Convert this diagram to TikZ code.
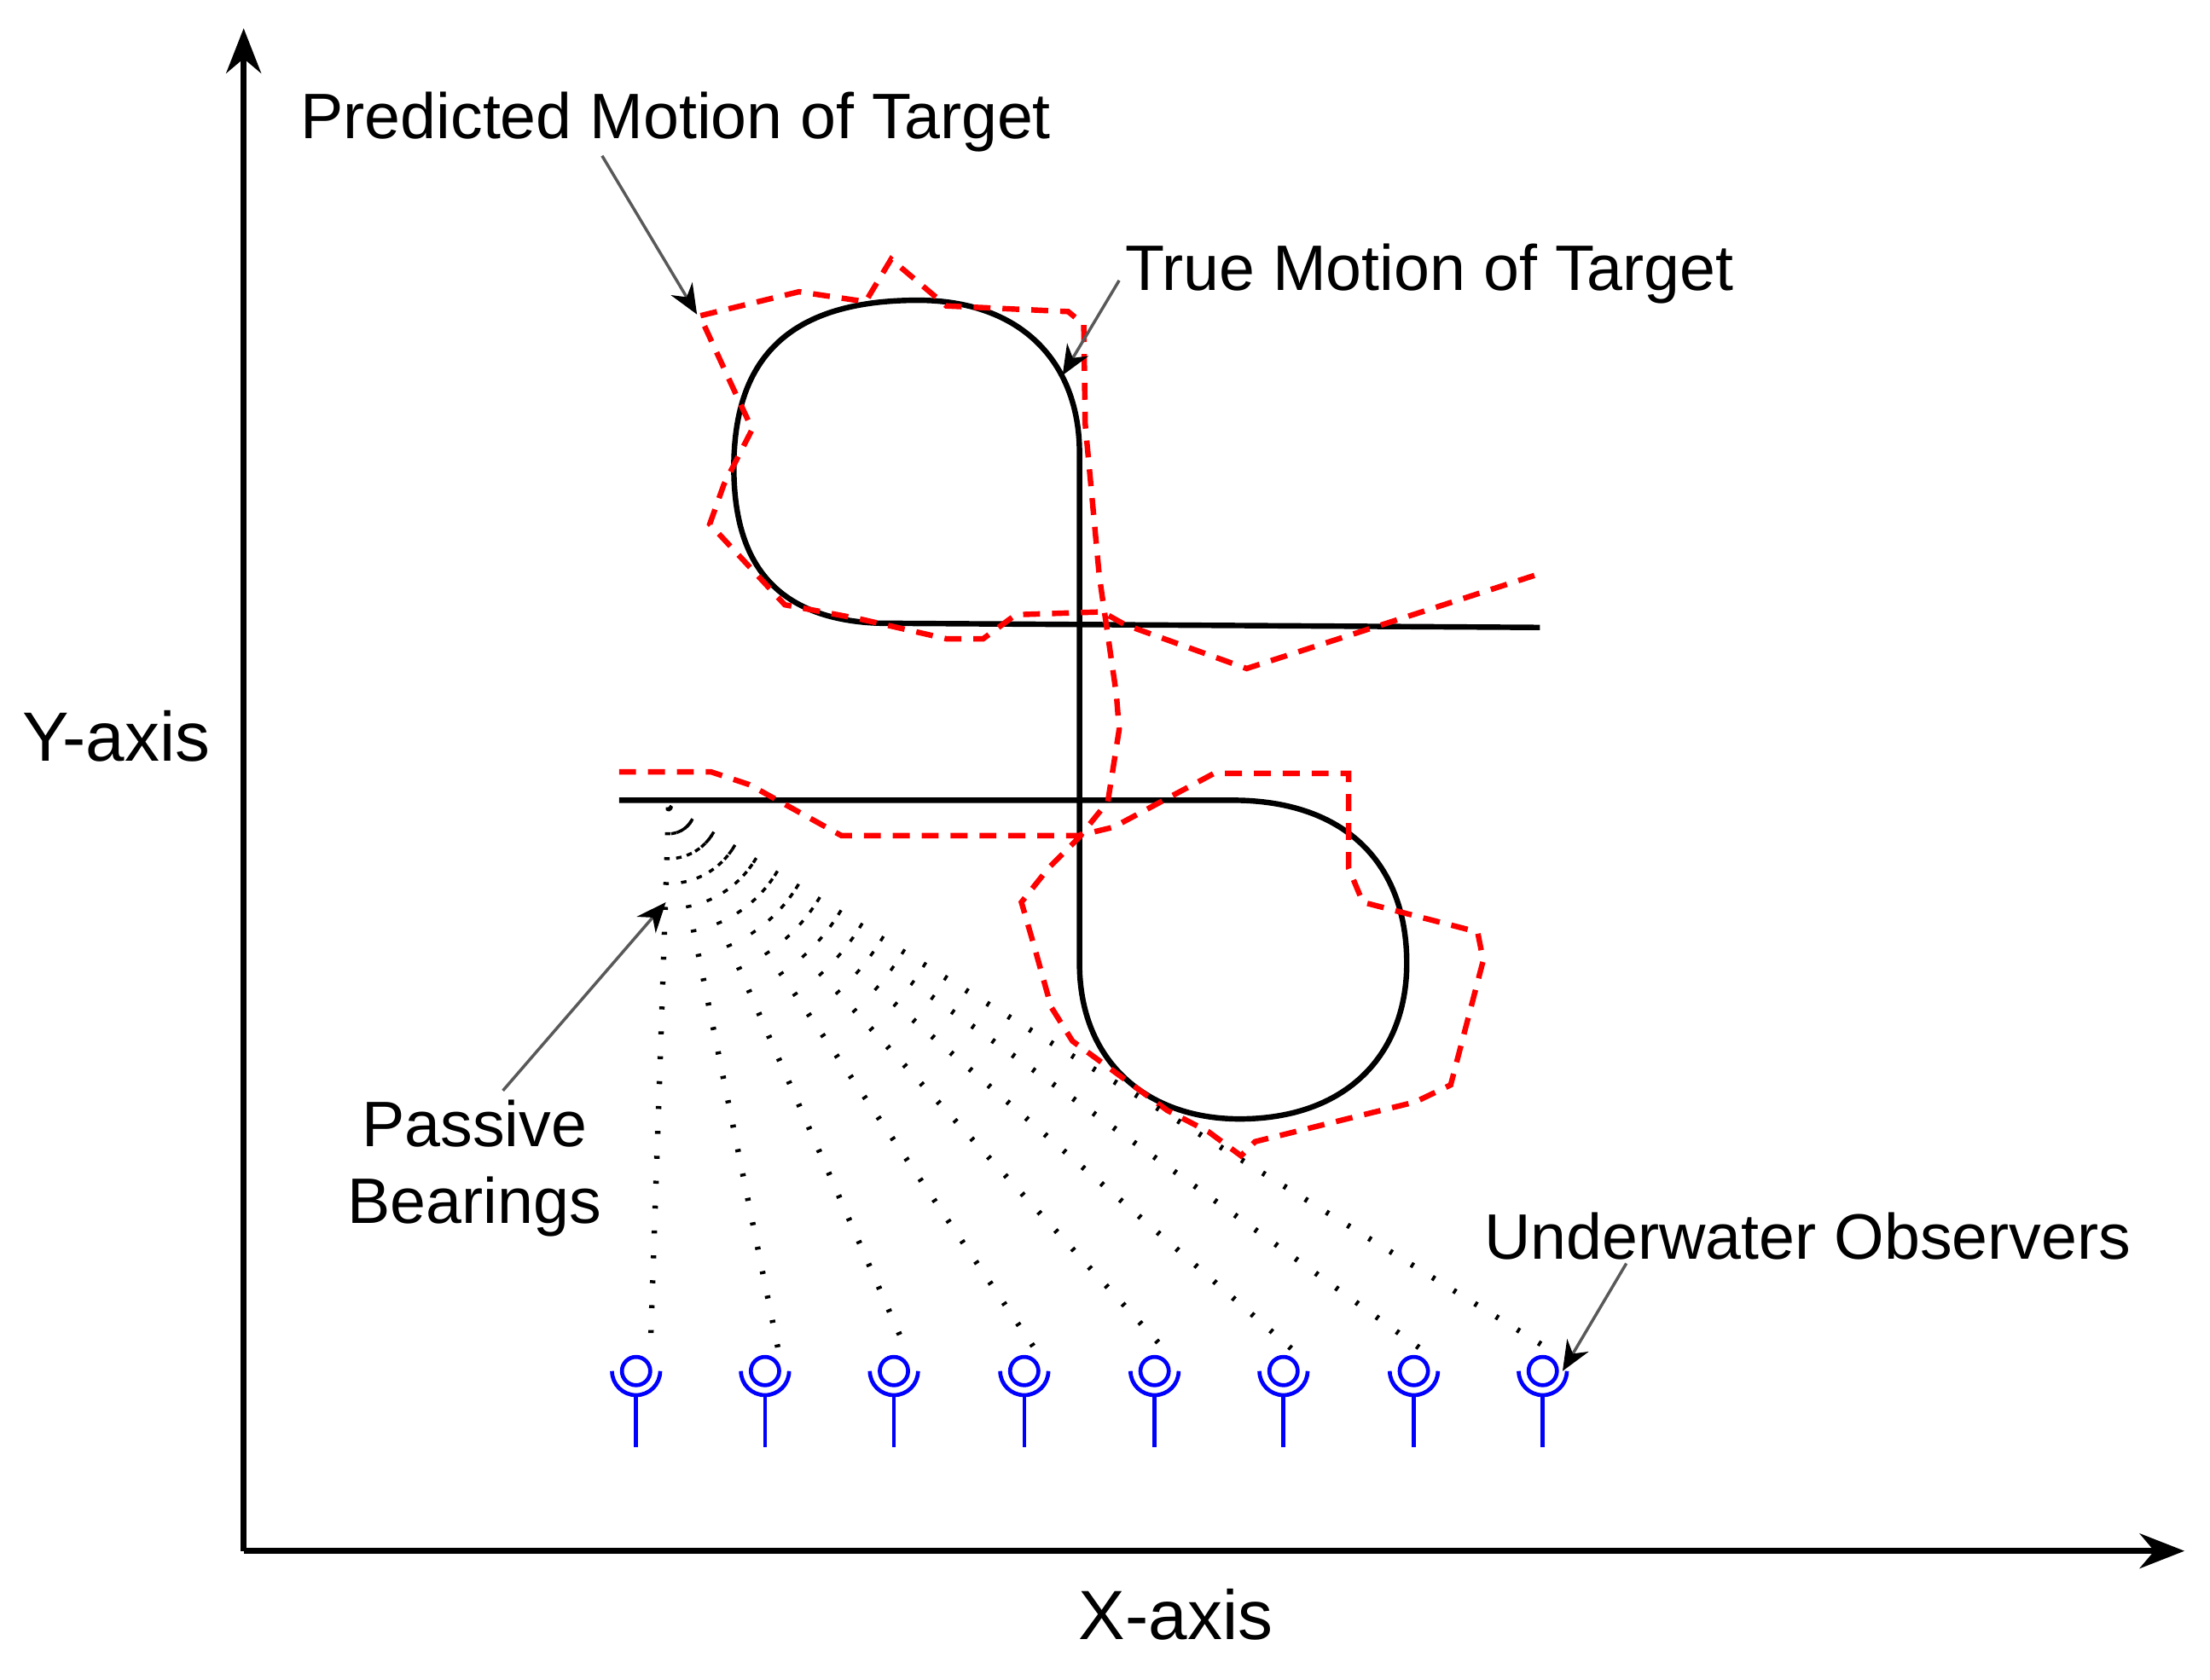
\documentclass[tikz,border=0pt]{standalone}
\usepackage{fontspec}
\setmainfont{Liberation Sans}
\usetikzlibrary{calc,arrows.meta}
\begin{document}
\begin{tikzpicture}[x=0.01cm,y=-0.01cm,
  axis/.style={line width=1.1pt,-{Stealth[length=9pt,width=7pt]}},
  truepath/.style={line width=1.1pt,black},
  predpath/.style={line width=1.1pt,red,dash pattern=on 3.4pt off 2.4pt},
  bearing/.style={line width=1.1pt,black,dash pattern=on 0.6pt off 4.4pt},
  obs/.style={blue,line width=0.8pt},
  pointer/.style={gray!70!black,line width=0.6pt,-{Stealth[length=6pt,width=5pt,black]}},
  lbl/.style={font=\fontsize{12.9pt}{15.5pt}\selectfont,inner sep=0pt},
  axlbl/.style={font=\fontsize{14pt}{16pt}\selectfont,inner sep=0pt}]
\useasboundingbox (0,0) rectangle (1560,1186);
% axes
\coordinate (orig) at (172,1095);
\coordinate (ytop) at (172,20);
\coordinate (xend) at (1542,1095);
\draw[axis] (orig) -- (ytop);
\draw[axis] (orig) -- (xend);
\node[axlbl] (ylab) at (82,520) {Y-axis};
\node[axlbl] (xlab) at (830,1140) {X-axis};
% true motion
\draw[truepath] (1087,443) -- (620,440) .. controls (545,437) and (518,395) .. (518,330)
  .. controls (518,250) and (560,212) .. (648,212) .. controls (720,212) and (762,255) .. (762,320)
  -- (762,680) .. controls (762,750) and (810,790) .. (875,790)
  .. controls (950,790) and (993,745) .. (993,680) .. controls (993,610) and (950,565) .. (870,565)
  -- (437,565);
% predicted motion
\draw[predpath] (437,545) -- (502,545) -- (529,554) -- (594,590) -- (761,590) -- (786,584)
  -- (857,546) -- (952,546) -- (952,613) -- (962,637) -- (1043,658) -- (1047,678)
  -- (1024,766) -- (999,778) -- (886,806) -- (876,816) -- (853,799) -- (824,784)
  -- (757,735) -- (742,711) -- (730,668) -- (721,637) -- (740,613) -- (761,592)
  -- (782,566) -- (790,515) -- (788,490) -- (776,407) -- (766,299) -- (765,229)
  -- (754,220) -- (668,216) -- (629,183) -- (611,213) -- (564,206) -- (494,223)
  -- (517,273) -- (531,303) -- (511,342) -- (501,370) -- (554,427) -- (607,437)
  -- (668,451) -- (694,451) -- (717,434) -- (778,432) -- (794,441) -- (880,472)
  -- (1084,406);
% observers and bearings
\coordinate (src) at (472,570);
\foreach \i/\x in {1/449,2/540,3/631,4/723,5/815,6/906,7/998,8/1089}{
  \coordinate (o\i) at (\x,968);
  \draw[bearing] (src) -- ($(o\i)+(10,-12)$);
  \draw[obs] (o\i) circle[radius=10];
  \draw[obs] ($(o\i)+(-17,0)$) arc[start angle=180,end angle=0,radius=17];
  \draw[obs] ($(o\i)+(0,17)$) -- ($(o\i)+(0,54)$);
}
% labels
\node[lbl] (pred) at (477,86) {Predicted Motion of Target};
\node[lbl] (true) at (1009,193) {True Motion of Target};
\node[lbl,align=center] (pass) at (335,825) {Passive\\Bearings};
\node[lbl] (uw) at (1276,873) {Underwater Observers};
\coordinate (pa) at (425,110); \coordinate (pb) at (492,222);
\coordinate (ta) at (790,198); \coordinate (tb) at (750,265);
\coordinate (ba) at (355,770); \coordinate (bb) at (470,637);
\coordinate (ua) at (1148,892); \coordinate (ub) at (1103,968);
\draw[pointer] (pa) -- (pb);
\draw[pointer] (ta) -- (tb);
\draw[pointer] (ba) -- (bb);
\draw[pointer] (ua) -- (ub);
\end{tikzpicture}
\end{document}
